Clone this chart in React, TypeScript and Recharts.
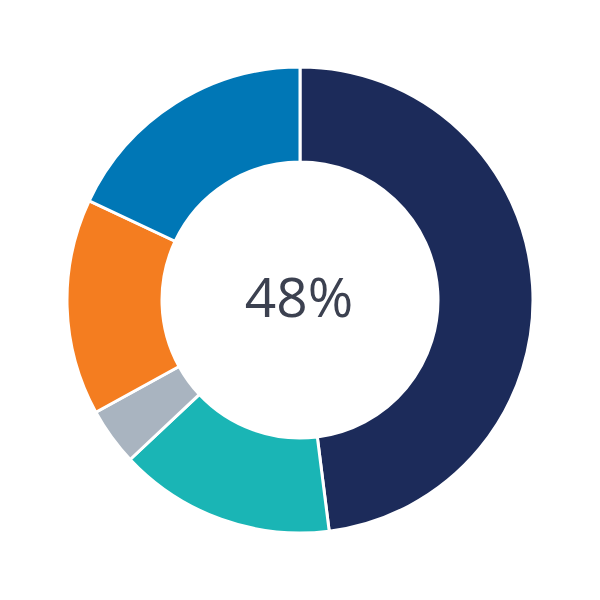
import { PieChart, Pie, Cell } from 'recharts';

const labels = ['Navy', 'Teal', 'Gray', 'Orange', 'Blue'];
const values = [48, 15, 4, 15, 18];
const colors = ['#1c2b5a', '#1ab5b5', '#a9b4c0', '#f47d20', '#0077b6'];
const centerLabel = '48%';

const data = labels.map((name, i) => ({ name, value: values[i] }));

const App = () => {
  return (
    <div style={{ position: 'absolute', top: 0, left: 0, width: 600, height: 600, background: '#fff' }}>
      <PieChart width={600} height={600}>
        <Pie
          data={data}
          dataKey="value"
          nameKey="name"
          cx={295}
          cy={295}
          innerRadius={138}
          outerRadius={233}
          startAngle={90}
          endAngle={-270}
          stroke="#ffffff"
          strokeWidth={3}
          isAnimationActive={false}
        >
          {data.map((entry, i) => (
            <Cell key={entry.name} fill={colors[i]} />
          ))}
        </Pie>
        <text
          x={299}
          y={295}
          textAnchor="middle"
          dominantBaseline="central"
          style={{ fontFamily: '"Open Sans", Lato, sans-serif', fontSize: 55, fontWeight: 400, fill: '#3c4150' }}
        >
          {centerLabel}
        </text>
      </PieChart>
    </div>
  );
};

export default App;
